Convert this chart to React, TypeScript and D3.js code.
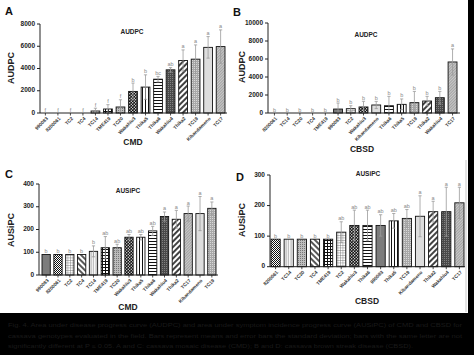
import React from "react";
import * as d3 from "d3";

// ---------- DATA ----------
const A_CATS = ["990083", "8200061", "TC2", "TC4", "TC14", "TME419", "TC20", "Wakahiu3", "Thika5", "Thika6", "Wakahiu4", "Thika2", "TC19", "Kibandameno", "TC17"];
const A_VALUES = [0, 0, 0, 0, 180, 360, 540, 1940, 2330, 3040, 3880, 4720, 4840, 5900, 5970];
const A_SD = [0, 0, 0, 0, 250, 390, 650, 750, 1100, 250, 200, 950, 1280, 970, 1500];
const A_LETTERS = ["f", "f", "f", "f", "f", "f", "f", "b", "b", "bc", "ab", "a", "a", "a", "a"];
const A_TICKS = [0, 2000, 4000, 6000, 8000];

const B_CATS = ["8200061", "TC14", "TC20", "TC4", "TME419", "990083", "TC2", "Wakahiu3", "Kibandameno", "Thika6", "Thika5", "TC19", "Thika2", "Wakahiu4", "TC17"];
const B_VALUES = [0, 0, 0, 0, 0, 440, 480, 670, 890, 810, 960, 1150, 1330, 1700, 5670];
const B_SD = [0, 0, 0, 0, 0, 670, 330, 630, 400, 1040, 600, 1250, 520, 700, 1450];
const B_LETTERS = ["b", "b", "b", "b", "b", "b", "b", "b", "b", "b", "b", "b", "b", "b", "a"];
const B_TICKS = [0, 2000, 4000, 6000, 8000, 10000];

const C_CATS = ["990083", "8200061", "TC2", "TC4", "TC14", "TME419", "TC20", "Wakahiu3", "Thika5", "Thika6", "Wakahiu4", "Thika2", "TC17", "Kibandameno", "TC19"];
const C_VALUES = [90, 90, 90, 90, 104, 120, 120, 166, 166, 194, 257, 245, 270, 270, 293];
const C_SD = [0, 0, 0, 0, 24, 49, 15, 12, 12, 20, 20, 39, 33, 75, 28];
const C_LETTERS = ["b", "b", "b", "b", "b", "ab", "ab", "ab", "ab", "ab", "a", "a", "a", "a", "a"];
const C_TICKS = [0, 100, 200, 300, 400];

const D_CATS = ["8200061", "TC14", "TC20", "TC4", "TME419", "TC2", "Wakahiu3", "Thika6", "990083", "Thika5", "TC19", "Kibandameno", "Thika2", "Wakahiu4", "TC17"];
const D_VALUES = [90, 90, 90, 90, 90, 113, 135, 135, 135, 150, 158, 165, 180, 180, 209];
const D_SD = [0, 0, 0, 0, 0, 34, 50, 50, 35, 24, 29, 67, 34, 80, 51];
const D_LETTERS = ["b", "b", "b", "b", "b", "ab", "ab", "ab", "ab", "ab", "ab", "a", "a", "a", "a"];
const D_TICKS = [0, 100, 200, 300];

const CAPTION = [
  "Fig. 4. Area under disease progress curve (AUDPC) and area under symptom incidence progress curve (AUSiPC) of CMD and CBSD for",
  "cassava genotypes evaluated in the field. Bars represent means and error bars the standard deviation; bars with the same letter are not",
  "significantly different at P ≤ 0.05. A and C: cassava mosaic disease (CMD); B and D: cassava brown streak disease (CBSD).",
];

// ---------- STYLE ----------
const FONT = "'Liberation Sans', Arial, sans-serif";
const PATTERN: Record<string, string> = {
  "990083": "#7c7c7c",
  "8200061": "url(#p8200061)",
  TC2: "url(#pTC2)",
  TC4: "url(#pTC4)",
  TC14: "url(#pTC14)",
  TME419: "url(#pTME419)",
  TC20: "url(#pTC20)",
  Wakahiu3: "url(#pWakahiu3)",
  Thika5: "url(#pThika5)",
  Thika6: "url(#pThika6)",
  Wakahiu4: "url(#pWakahiu4)",
  Thika2: "url(#pThika2)",
  TC19: "url(#pTC19)",
  Kibandameno: "url(#pKibandameno)",
  TC17: "url(#pTC17)",
};

type PanelProps = {
  cats: string[];
  values: number[];
  sds: number[];
  letters: string[];
  ticks: number[];
  axisX: number;
  band: [number, number];
  axisEnd: number;
  yTop: number;
  yBot: number;
  tag: string;
  tagPos: [number, number];
  title: string;
  titlePos: [number, number];
  xLabel: string;
  xLabelPos: [number, number];
  yLabel: string;
  yLabelPos: [number, number];
};

function Panel(p: PanelProps) {
  const x = d3.scaleBand<string>().domain(p.cats).range(p.band).paddingInner(0.3).paddingOuter(0);
  const yMax = p.ticks[p.ticks.length - 1];
  const y = d3.scaleLinear().domain([0, yMax]).range([p.yBot, p.yTop]);
  const bw = x.bandwidth();
  return (
    <g fontFamily={FONT}>
      <text x={p.tagPos[0]} y={p.tagPos[1]} fontSize={11} fontWeight="bold" fill="#111">{p.tag}</text>
      <text x={p.titlePos[0]} y={p.titlePos[1]} fontSize={6.5} fontWeight="bold" textAnchor="middle" dominantBaseline="middle" fill="#222">{p.title}</text>
      <text x={p.xLabelPos[0]} y={p.xLabelPos[1]} fontSize={8.5} fontWeight="bold" textAnchor="middle" dominantBaseline="middle" fill="#222">{p.xLabel}</text>
      <text transform={`translate(${p.yLabelPos[0]},${p.yLabelPos[1]}) rotate(-90)`} fontSize={9} fontWeight="bold" textAnchor="middle" dominantBaseline="middle" fill="#222">{p.yLabel}</text>
      {p.cats.map((c, i) => {
        const v = p.values[i];
        if (v <= 0) return null;
        const x0 = x(c) as number;
        return (
          <rect key={"b" + c} x={x0} y={y(v)} width={bw} height={p.yBot - y(v)} fill={PATTERN[c]} stroke="#111" strokeWidth={0.9} />
        );
      })}
      {p.cats.map((c, i) => {
        const v = p.values[i];
        const sd = p.sds[i];
        if (sd <= 0) return null;
        const cx = (x(c) as number) + bw / 2;
        const hi = y(v + sd);
        const lo = y(Math.max(0, v - sd));
        return (
          <g key={"e" + c} stroke="#9a9a9a" strokeWidth={0.8}>
            <line x1={cx} x2={cx} y1={hi} y2={lo} />
            <line x1={cx - 1.6} x2={cx + 1.6} y1={hi} y2={hi} />
            <line x1={cx - 1.6} x2={cx + 1.6} y1={lo} y2={lo} />
          </g>
        );
      })}
      {p.cats.map((c, i) => {
        const cx = (x(c) as number) + bw / 2;
        const top = y(p.values[i] + p.sds[i]);
        return (
          <text key={"l" + c} x={cx} y={top - 1.5} fontSize={5.5} textAnchor="middle" fill="#888">{p.letters[i]}</text>
        );
      })}
      <line x1={p.axisX} x2={p.axisX} y1={p.yTop} y2={p.yBot} stroke="#222" strokeWidth={1} />
      <line x1={p.axisX} x2={p.axisEnd} y1={p.yBot} y2={p.yBot} stroke="#222" strokeWidth={1} />
      {p.ticks.map((t) => (
        <g key={"t" + t}>
          <line x1={p.axisX - 3} x2={p.axisX} y1={y(t)} y2={y(t)} stroke="#222" strokeWidth={1} />
          <text x={p.axisX - 5} y={y(t)} fontSize={6.5} fontWeight="bold" textAnchor="end" dominantBaseline="middle" fill="#222">{t}</text>
        </g>
      ))}
      {p.cats.map((c) => {
        const cx = (x(c) as number) + bw / 2;
        return (
          <g key={"x" + c}>
            <line x1={cx} x2={cx} y1={p.yBot} y2={p.yBot + 2.5} stroke="#222" strokeWidth={0.8} />
            <text transform={`translate(${cx + 2},${p.yBot + 5}) rotate(-45)`} fontSize={4.8} fontWeight="bold" textAnchor="end" dominantBaseline="middle" fill="#333">{c}</text>
          </g>
        );
      })}
    </g>
  );
}

function Defs() {
  return (
    <defs>
      <pattern id="p8200061" patternUnits="userSpaceOnUse" width={2} height={2}>
        <rect width={2} height={2} fill="#fff" />
        <rect width={1} height={1} fill="#111" />
        <rect x={1} y={1} width={1} height={1} fill="#111" />
      </pattern>
      <pattern id="pTC2" patternUnits="userSpaceOnUse" width={2.5} height={2.5}>
        <rect width={2.5} height={2.5} fill="#fff" />
        <path d="M0,0H2.5M0,0V2.5" stroke="#555" strokeWidth={0.7} />
      </pattern>
      <pattern id="pTC4" patternUnits="userSpaceOnUse" width={4} height={4} patternTransform="rotate(-45)">
        <rect width={4} height={4} fill="#fff" />
        <line x1={1} x2={1} y1={0} y2={4} stroke="#111" strokeWidth={1.4} />
      </pattern>
      <pattern id="pTC14" patternUnits="userSpaceOnUse" width={2.5} height={2.5}>
        <rect width={2.5} height={2.5} fill="#fff" />
        <line x1={1} x2={1} y1={0} y2={2.5} stroke="#666" strokeWidth={0.6} />
      </pattern>
      <pattern id="pTME419" patternUnits="userSpaceOnUse" width={3} height={3}>
        <rect width={3} height={3} fill="#fff" />
        <path d="M0,0.5H3M0.5,0V3" stroke="#111" strokeWidth={1} />
      </pattern>
      <pattern id="pTC20" patternUnits="userSpaceOnUse" width={2} height={2}>
        <rect width={2} height={2} fill="#bdbdbd" />
        <rect width={1} height={1} fill="#777" />
      </pattern>
      <pattern id="pWakahiu3" patternUnits="userSpaceOnUse" width={3} height={3}>
        <rect width={3} height={3} fill="#111" />
        <circle cx={0.75} cy={0.75} r={0.65} fill="#fff" />
        <circle cx={2.25} cy={2.25} r={0.65} fill="#fff" />
      </pattern>
      <pattern id="pThika5" patternUnits="userSpaceOnUse" width={3} height={3}>
        <rect width={3} height={3} fill="#fff" />
        <line x1={1.5} x2={1.5} y1={0} y2={3} stroke="#111" strokeWidth={1} />
      </pattern>
      <pattern id="pThika6" patternUnits="userSpaceOnUse" width={3} height={3}>
        <rect width={3} height={3} fill="#fff" />
        <line x1={0} x2={3} y1={1.5} y2={1.5} stroke="#111" strokeWidth={1} />
      </pattern>
      <pattern id="pWakahiu4" patternUnits="userSpaceOnUse" width={2} height={2}>
        <rect width={2} height={2} fill="#4a4a4a" />
        <rect width={0.8} height={0.8} fill="#a0a0a0" />
      </pattern>
      <pattern id="pThika2" patternUnits="userSpaceOnUse" width={4} height={4} patternTransform="rotate(45)">
        <rect width={4} height={4} fill="#fff" />
        <line x1={1} x2={1} y1={0} y2={4} stroke="#111" strokeWidth={1.6} />
      </pattern>
      <pattern id="pTC19" patternUnits="userSpaceOnUse" width={2} height={2}>
        <rect width={2} height={2} fill="#a8a8a8" />
        <rect width={1} height={1} fill="#d8d8d8" />
      </pattern>
      <pattern id="pKibandameno" patternUnits="userSpaceOnUse" width={2} height={2}>
        <rect width={2} height={2} fill="#fff" />
        <line x1={0} x2={2} y1={1} y2={1} stroke="#777" strokeWidth={0.5} />
      </pattern>
      <pattern id="pTC17" patternUnits="userSpaceOnUse" width={2} height={2} patternTransform="rotate(45)">
        <rect width={2} height={2} fill="#c9c9c9" />
        <line x1={0.5} x2={0.5} y1={0} y2={2} stroke="#8a8a8a" strokeWidth={0.6} />
      </pattern>
    </defs>
  );
}

export default function App() {
  return (
    <svg width={474} height={355} style={{ position: "absolute", left: 0, top: 0, background: "#fff" }}>
      <Defs />
      <rect width={474} height={355} fill="#fff" />
      <Panel cats={A_CATS} values={A_VALUES} sds={A_SD} letters={A_LETTERS} ticks={A_TICKS}
        axisX={40} band={[41, 225]} axisEnd={227} yTop={24} yBot={113}
        tag="A" tagPos={[5, 15]} title="AUDPC" titlePos={[132, 32]} xLabel="CMD" xLabelPos={[133, 143]}
        yLabel="AUDPC" yLabelPos={[12, 68]} />
      <Panel cats={B_CATS} values={B_VALUES} sds={B_SD} letters={B_LETTERS} ticks={B_TICKS}
        axisX={268} band={[270, 457]} axisEnd={460} yTop={23} yBot={113}
        tag="B" tagPos={[233, 16]} title="AUDPC" titlePos={[366, 35]} xLabel="CBSD" xLabelPos={[362, 150]}
        yLabel="AUDPC" yLabelPos={[243, 67]} />
      <Panel cats={C_CATS} values={C_VALUES} sds={C_SD} letters={C_LETTERS} ticks={C_TICKS}
        axisX={39} band={[42, 216]} axisEnd={218} yTop={184} yBot={275}
        tag="C" tagPos={[5, 178]} title="AUSiPC" titlePos={[128, 191]} xLabel="CMD" xLabelPos={[128, 308]}
        yLabel="AUSiPC" yLabelPos={[12, 230]} />
      <Panel cats={D_CATS} values={D_VALUES} sds={D_SD} letters={D_LETTERS} ticks={D_TICKS}
        axisX={270} band={[271, 464]} axisEnd={465} yTop={175} yBot={266.7}
        tag="D" tagPos={[236, 181]} title="AUSiPC" titlePos={[368, 174]} xLabel="CBSD" xLabelPos={[367, 302]}
        yLabel="AUSiPC" yLabelPos={[243, 220]} />
      <line x1={466} x2={466} y1={160} y2={312} stroke="#bbb" strokeWidth={0.8} />
      <rect x={468} y={0} width={6} height={355} fill="#000" />
      <rect x={0} y={313} width={474} height={42} fill="#000" />
      {CAPTION.map((t, i) => (
        <text key={i} x={8} y={327 + i * 10.5} fontSize={5.6} fontFamily={FONT} fill="#1a1a1a"
          textLength={i < 2 ? 454 : 405} lengthAdjust="spacingAndGlyphs">{t}</text>
      ))}
    </svg>
  );
}
